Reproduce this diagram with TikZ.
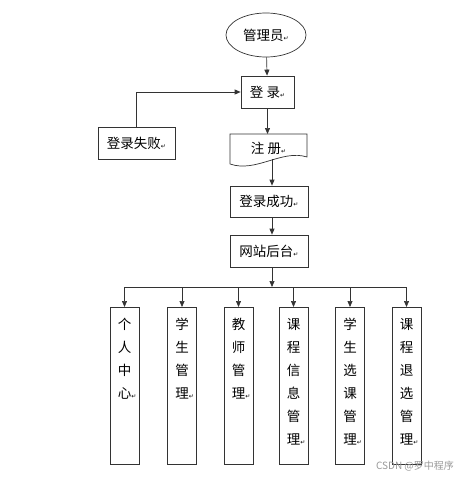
\documentclass[tikz,border=0pt]{standalone}
\usepackage{fontspec}
\setmainfont{Noto Sans CJK SC}
\newfontfamily\markfont{DejaVu Sans}
\usetikzlibrary{arrows.meta,shapes.geometric}
\newcommand{\ret}{{\markfont\fontsize{6}{6}\selectfont ↵}}

\begin{document}
\begin{tikzpicture}[x=1pt,y=-1pt,line width=.7pt,draw=black!80,
	every node/.style={draw,inner sep=0pt,font=\fontsize{13.5}{15}\selectfont},
	>={Triangle[length=6pt,width=5pt]},
	box/.style={rectangle,minimum height=32pt},
	col/.style={rectangle,minimum width=29pt,minimum height=157pt,anchor=north},
	coltext/.style={draw=none,anchor=north,align=center,font=\fontsize{13.5}{23}\selectfont}]
	\useasboundingbox (0,0) rectangle (474,479);
	%top of the chart
	\node[ellipse,minimum width=80pt,minimum height=44pt] (a) at (266,35) {管理员\ret};
	\node[box,minimum width=53pt] (login) at (267.5,92) {登 录\ret};
	\node[box,minimum width=77pt] (fail) at (136.5,143) {登录失败\ret};
	%% register, drawn as a document shape
	\coordinate (r1) at (230,134);\coordinate (r2) at (307,134);
	\coordinate (r3) at (307,157);\coordinate (r4) at (230,164);
	\draw (r4) -- (r1) -- (r2) -- (r3) .. controls (282,149) and (256,173) .. (r4);
	\node[draw=none] (reg) at (268.5,148) {注 册\ret};
	\coordinate (regout) at (272,159);
	\node[box,minimum width=78pt,minimum height=31pt] (ok) at (269,201.5) {登录成功\ret};
	\node[box,minimum width=78pt] (web) at (269,251) {网站后台\ret};
	\coordinate (bus) at (272,287);
	%% arrows of the upper part
	\draw[->] (a) -- (login);
	\draw[->] (fail.north) |- (login.west);
	\draw[->] (login.south) -- (login.south |- r1);
	\draw[->] (regout) -- (regout |- ok.north);
	\draw[->] (ok.south -| bus) -- (web.north -| bus);
	\draw[->] (web.south -| bus) -- (bus);
	%% the six modules drawn with a loop
	\foreach \i/\x/\t in {1/124.5/{个\\人\\中\\心},2/182/{学\\生\\管\\理},3/238.5/{教\\师\\管\\理},
		4/293.5/{课\\程\\信\\息\\管\\理},5/350/{学\\生\\选\\课\\管\\理},6/406.5/{课\\程\\退\\选\\管\\理}}{
		\node[col] (m\i) at (\x,307) {};
		\node[coltext] (t\i) at ([yshift=-11pt]m\i.north) {\t\rlap{\ret}};
		\draw[->] (m\i.north |- bus) -- (m\i.north);
		}
	\draw (m1.north |- bus) -- (m6.north |- bus);
	%% watermark
	\node[draw=none,text=black!40,font=\fontsize{10}{10}\selectfont] (wm) at (415,466) {CSDN @罗中程序};
\end{tikzpicture}
\end{document}
